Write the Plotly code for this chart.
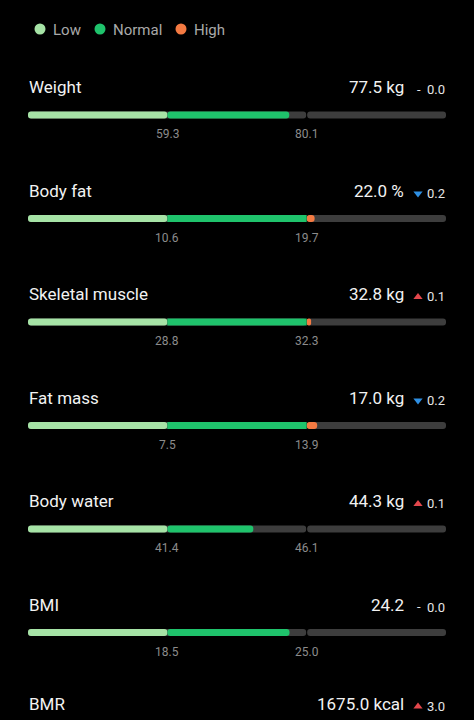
import plotly.graph_objects as go

# ---------------- data ----------------
metrics = ["Weight", "Body fat", "Skeletal muscle", "Fat mass", "Body water", "BMI", "BMR"]
values = [77.5, 22.0, 32.8, 17.0, 44.3, 24.2, 1675.0]
units = ["kg", "%", "kg", "kg", "kg", "", "kcal"]
low_limits = [59.3, 10.6, 28.8, 7.5, 41.4, 18.5, None]
high_limits = [80.1, 19.7, 32.3, 13.9, 46.1, 25.0, None]
scale_max = [150.0, 60.0, 48.0, 55.0, 70.0, 40.0, None]
changes = [0.0, -0.2, 0.1, -0.2, 0.1, 0.0, 3.0]
legend_labels = ["Low", "Normal", "High"]

# ---------------- style ----------------
C_LOW = "#a6e3a6"
C_NORMAL = "#1fc36c"
C_HIGH = "#f47a42"
C_TRACK = "#3d3d3d"
C_BG = "#000000"
C_UP = "#e3474c"
C_DOWN = "#2e8fe3"
FONT = "Roboto"
legend_colors = [C_LOW, C_NORMAL, C_HIGH]

W, H = 474, 720
X0, X1 = 28, 446           # track extent in px
SEG_W = (X1 - X0) / 3.0    # px per segment unit
BAR_Y0 = 115               # first bar centre px
PITCH = 103.5              # row pitch px
BAR_H = 7


def xu(px):
    return (px - X0) / SEG_W


def row_px(i):
    # last row sits slightly higher (no range row above it)
    return BAR_Y0 + PITCH * i - (4.5 if i == len(metrics) - 1 else 0)


def yu(py):
    return (py - BAR_Y0) / PITCH


def seg_pos(v, lo, hi, mx):
    if v < lo:
        return v / lo
    if v <= hi:
        return 1 + (v - lo) / (hi - lo)
    return 2 + (v - hi) / (mx - hi)


n = len(metrics)
rows_y = [yu(row_px(i)) for i in range(n)]
bw = BAR_H / PITCH
eps = 0.5 / SEG_W

fig = go.Figure()


def add_bar(ys, bases, lens, color, radius):
    fig.add_trace(go.Bar(
        orientation="h", y=ys, x=lens, base=bases, width=bw,
        marker=dict(color=color, line=dict(width=0), cornerradius=radius),
        hoverinfo="skip", showlegend=False,
    ))


# track (two halves, with a gap at the upper threshold)
add_bar(rows_y, [2 - eps] * n, [-(2 - eps)] * n, C_TRACK, BAR_H / 2)
add_bar(rows_y, [2 + eps] * n, [1 - eps] * n, C_TRACK, BAR_H / 2)

low_y, low_b, low_l = [], [], []
hi_y, hi_b, hi_l = [], [], []
nf_y, nf_b, nf_l = [], [], []
np_y, np_b, np_l = [], [], []
for i in range(n):
    lo, hi, mx, v = low_limits[i], high_limits[i], scale_max[i], values[i]
    if lo is None:
        continue
    p = seg_pos(v, lo, hi, mx)
    y = rows_y[i]
    if p < 1:
        low_y.append(y); low_b.append(p); low_l.append(-p)
        continue
    low_y.append(y); low_b.append(1); low_l.append(-1)
    if p <= 2:
        np_y.append(y); np_b.append(1); np_l.append(p - 1)
    else:
        nf_y.append(y); nf_b.append(1); nf_l.append(1)
        hi_y.append(y); hi_b.append(2); hi_l.append(p - 2)

add_bar(low_y, low_b, low_l, C_LOW, BAR_H / 2)
add_bar(hi_y, hi_b, hi_l, C_HIGH, BAR_H / 2)
add_bar(nf_y, nf_b, nf_l, C_NORMAL, 0)
add_bar(np_y, np_b, np_l, C_NORMAL, BAR_H / 2)

ann = []
# legend
leg_dot_px = [40, 100, 181]
for lab, col, dx in zip(legend_labels, legend_colors, leg_dot_px):
    fig.add_trace(go.Scatter(
        x=[xu(dx)], y=[yu(29)], mode="markers",
        marker=dict(size=11, color=col, line=dict(width=0)),
        hoverinfo="skip", showlegend=False, cliponaxis=False))
    ann.append(dict(x=xu(dx + 11), y=yu(29.5), text=lab, xanchor="left", yanchor="middle",
                    font=dict(size=15, color="#a9a9a9", family=FONT)))

up_x, up_y, dn_x, dn_y = [], [], [], []
for i in range(n):
    by = row_px(i)
    ty = by - 28
    ann.append(dict(x=xu(X0 - 1), y=yu(ty), text=metrics[i], xanchor="left", yanchor="middle",
                    font=dict(size=17, color="#f2f2f2", family=FONT)))
    vtxt = f"{values[i]:.1f} {units[i]}".strip()
    ann.append(dict(x=xu(406), y=yu(ty), text=vtxt, xanchor="right", yanchor="middle",
                    font=dict(size=17, color="#f2f2f2", family=FONT)))
    ann.append(dict(x=xu(447), y=yu(ty + 2.5), text=f"{abs(changes[i]):.1f}", xanchor="right",
                    yanchor="middle", font=dict(size=13, color="#e6e6e6", family=FONT)))
    c = changes[i]
    if c > 0:
        up_x.append(xu(418)); up_y.append(yu(ty + 3))
    elif c < 0:
        dn_x.append(xu(418)); dn_y.append(yu(ty + 3))
    else:
        ann.append(dict(x=xu(418.5), y=yu(ty + 2), text="-", xanchor="center", yanchor="middle",
                        font=dict(size=13, color="#e6e6e6", family=FONT)))
    if low_limits[i] is not None:
        for k, t in ((1, low_limits[i]), (2, high_limits[i])):
            ann.append(dict(x=k, y=yu(by + 19), text=f"{t:.1f}", xanchor="center", yanchor="middle",
                            font=dict(size=12, color="#8c8c8c", family=FONT)))

fig.add_trace(go.Scatter(x=up_x, y=up_y, mode="markers",
                         marker=dict(symbol="triangle-up", size=8, color=C_UP, line=dict(width=0)),
                         hoverinfo="skip", showlegend=False))
fig.add_trace(go.Scatter(x=dn_x, y=dn_y, mode="markers",
                         marker=dict(symbol="triangle-down", size=8, color=C_DOWN, line=dict(width=0)),
                         hoverinfo="skip", showlegend=False))

for a in ann:
    a.update(xref="x", yref="y", showarrow=False)

fig.update_layout(
    width=W, height=H,
    margin=dict(l=0, r=0, t=0, b=0),
    paper_bgcolor=C_BG, plot_bgcolor=C_BG,
    barmode="overlay",
    annotations=ann,
    xaxis=dict(range=[xu(0), xu(W)], visible=False, fixedrange=True),
    yaxis=dict(range=[yu(H), yu(0)], visible=False, fixedrange=True),
    showlegend=False,
    font=dict(family=FONT),
)

fig.write_html(
    "out.html",
    config={"displayModeBar": False},
    post_script="document.body.style.margin='0';document.body.style.padding='0';"
                "document.body.style.background='#000';document.body.style.overflow='hidden';",
)
